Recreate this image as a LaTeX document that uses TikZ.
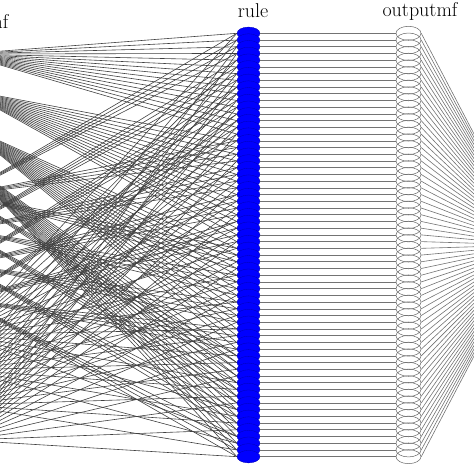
\documentclass[tikz,border=0pt]{standalone}
\usepackage{fontspec}
\usetikzlibrary{shapes.geometric}

\begin{document}
\begin{tikzpicture}[
    x=1pt, y=-1pt,
    link/.style={draw=black!75, line width=0.6pt},
    flatlink/.style={draw=black!55, line width=0.6pt},
    rulenode/.style={ellipse, draw=blue!70!black, fill=blue, line width=0.3pt, minimum width=23pt, minimum height=12.5pt, inner sep=0pt},
    mfnode/.style={ellipse, draw=black!60, line width=0.5pt, minimum width=25pt, minimum height=14pt, inner sep=0pt},
    collabel/.style={anchor=base, inner sep=0pt, font=\fontsize{20}{24}\selectfont}
]
\useasboundingbox (0,0) rectangle (474,474);
\clip (0,0) rectangle (474,474);

% Input membership functions (left of the frame)
\foreach \i in {1,...,12}
    \node[mfnode] (inmf\i) at (-50, {54+(\i-1)*35.1}) {};

% Rules
\foreach \r in {1,...,64}
    \node[rulenode] (rule\r) at (248.5, {33.3+(\r-1)*6.72}) {};

% Output membership functions
\foreach \r in {1,...,64}
    \node[mfnode] (outmf\r) at (408.5, {33.3+(\r-1)*6.72}) {};

% Output (right of the frame)
\node[mfnode] (output) at (545, 245) {};

% Column labels
\node[collabel] (lbl_inmf) at (-23.5, 28) {inputmf};
\node[collabel] (lbl_rule) at (253, 17.5) {rule};
\node[collabel] (lbl_outmf) at (420, 16) {outputmf};

% Input mf to rule (one mf of each input per rule)
\foreach \a in {0,...,3}
  \foreach \b in {0,...,3}
    \foreach \c in {0,...,3} {
      \pgfmathtruncatemacro\r{16*\a+4*\b+\c+1}
      \pgfmathtruncatemacro\ma{\a+1}
      \pgfmathtruncatemacro\mb{\b+5}
      \pgfmathtruncatemacro\mc{\c+9}
      \draw[link] (inmf\ma.east) -- (rule\r.west);
      \draw[link] (inmf\mb.east) -- (rule\r.west);
      \draw[link] (inmf\mc.east) -- (rule\r.west);
    }

% Rule to output mf, output mf to output
\foreach \r in {1,...,64} {
    \draw[flatlink] (rule\r.east) -- (outmf\r.west);
    \draw[flatlink] (outmf\r.east) -- (output.west);
}

\end{tikzpicture}
\end{document}
